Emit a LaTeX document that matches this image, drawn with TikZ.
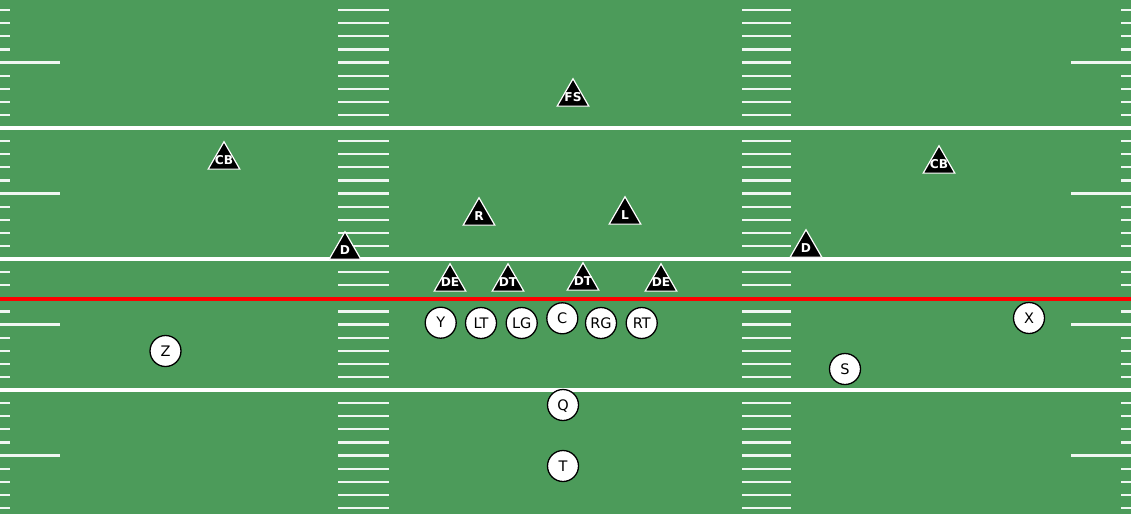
\documentclass[tikz,border=0pt]{standalone}
\usepackage{fontspec}
\setmainfont{DejaVu Sans}
\usetikzlibrary{shapes.geometric}
\definecolor{turf}{RGB}{76,155,90}
\definecolor{scrimred}{RGB}{255,0,0}

\begin{document}
\begin{tikzpicture}[x=1pt, y=-1pt,
	off/.style={circle, draw=black, fill=white, line width=1.3pt, minimum size=31pt, inner sep=0pt, text height=10.5pt, text depth=0pt, font=\fontsize{14.5}{14.5}\selectfont},
	def/.style={regular polygon, regular polygon sides=3, draw=white, fill=black, line width=1.2pt, minimum size=36.5pt, inner sep=-5pt, text=white, text height=8.8pt, text depth=0pt, font=\bfseries\fontsize{12.2}{12.2}\selectfont},
	yard/.style={white, line width=4pt},
	tick/.style={white, opacity=0.92, line width=2.2pt},
	scrim/.style={scrimred, line width=4pt}]

	\fill[turf] (0,0) rectangle (1131,514);
	\useasboundingbox (0,0) rectangle (1131,514);

	% field
	\foreach \y in {128,259,390}
		\draw[yard] (0,\y) -- (1131,\y);
	\foreach \yl in {-3,128,259,390}
		\foreach \k in {1,...,9} {
			\pgfmathsetmacro\ty{\yl+13.1*\k}
			\ifnum\k=5 \def\tl{60}\else\def\tl{10}\fi
			\draw[tick] (0,\ty) -- (\tl,\ty);
			\draw[tick] (1131-\tl,\ty) -- (1131,\ty);
			\draw[tick] (338,\ty) -- (389,\ty);
			\draw[tick] (742,\ty) -- (791,\ty);
		}
	\draw[scrim] (0,299) -- (1131,299);

	% defense
	\node[def] (fs) at (573,97) {FS};
	\node[def] (cbl) at (224,160) {CB};
	\node[def] (cbr) at (939,164) {CB};
	\node[def] (r) at (479,216) {R};
	\node[def] (l) at (625,215) {L};
	\node[def] (dl) at (345,250) {D};
	\node[def] (dr) at (806,248) {D};
	\node[def] (del) at (450,282) {DE};
	\node[def] (dtl) at (508,282) {DT};
	\node[def] (dtr) at (583,281) {DT};
	\node[def] (der) at (661,282) {DE};

	% offense
	\node[off] (y) at (440.7,322.7) {Y};
	\node[off] (lt) at (481,323) {LT};
	\node[off] (lg) at (521.7,323) {LG};
	\node[off] (c) at (562.3,318.3) {C};
	\node[off] (rg) at (601,323) {RG};
	\node[off] (rt) at (641.7,323) {RT};
	\node[off] (z) at (165.5,351) {Z};
	\node[off] (x) at (1029,318) {X};
	\node[off] (s) at (845,369) {S};
	\node[off] (q) at (563,405) {Q};
	\node[off] (t) at (563,466) {T};

\end{tikzpicture}
\end{document}
